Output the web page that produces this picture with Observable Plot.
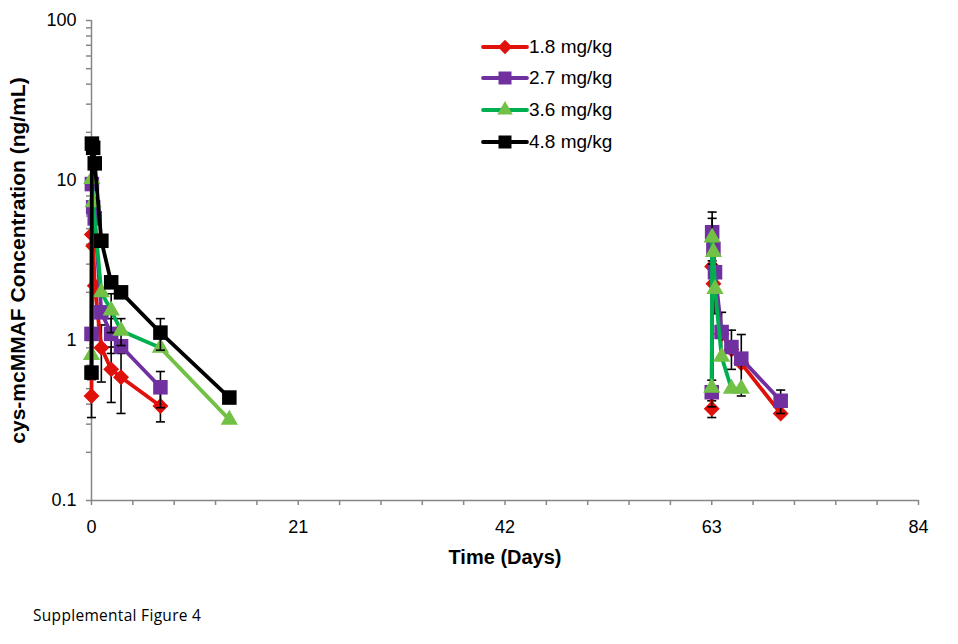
<!DOCTYPE html>
<html>
<head>
<meta charset="utf-8">
<script src="https://cdn.jsdelivr.net/npm/d3@7"></script>
<script src="https://cdn.jsdelivr.net/npm/@observablehq/plot@0.6"></script>
<style>
  body { margin: 0; background: #fff; }
  #wrap { position: relative; width: 958px; height: 644px; font-family: "Liberation Sans", Arial, sans-serif; }
  #legend { position: absolute; left: 481px; top: 31px; }
  #legend .row { display: flex; align-items: center; height: 31.67px; font-size: 19px; color: #000; }
  #legend svg { display: block; }
  #caption { position: absolute; left: 33px; top: 604px; font-family: "Open Sans", sans-serif; font-size: 15.5px; letter-spacing: 0.3px; color: #000; }
</style>
</head>
<body>
<div id="wrap">
  <div id="chart"></div>
  <div id="legend"></div>
  <div id="caption">Supplemental Figure 4</div>
</div>
<script>
// Dose groups
const series = ["1.8 mg/kg", "2.7 mg/kg", "3.6 mg/kg", "4.8 mg/kg"];

// Sampling days for the first and the fourth cycle
const cycle1Days = [0, 0.04, 0.17, 0.33, 1, 2, 3, 7, 14];
const cycle2Days = [63, 63.04, 63.17, 63.33, 64, 65, 66, 70];

// Mean cys-mcMMAF concentration (ng/mL); null = not sampled
const conc18Cycle1 = [0.45, 4.6, 3.9, 2.2, 0.90, 0.66, 0.59, 0.39, null];
const conc27Cycle1 = [1.1, 9.5, 6.8, 5.8, 1.5, 1.1, 0.92, 0.51, null];
const conc36Cycle1 = [0.81, 10.2, 7.3, null, 2.0, 1.54, 1.15, 0.90, 0.32];
const conc48Cycle1 = [0.63, 17.0, 16.0, 12.8, 4.2, 2.31, 2.0, 1.12, 0.44];

const conc18Cycle2 = [0.375, 2.9, 2.26, null, 1.1, 0.88, 0.72, 0.35];
const conc27Cycle2 = [0.475, 4.75, 3.74, 2.67, 1.13, 0.91, 0.77, 0.42];
const conc36Cycle2 = [0.506, 4.4, 3.57, 2.1, 0.79, 0.50, 0.50, null];
const conc48Cycle2 = [null, null, null, null, null, null, null, null];

// Standard deviations (ng/mL); null = no error bar
const sd18Cycle1 = [0.12, null, null, null, 0.35, 0.25, 0.24, 0.08, null];
const sd27Cycle1 = [null, null, null, null, null, 0.27, null, 0.13, null];
const sd36Cycle1 = [null, null, null, null, null, 0.42, 0.22, null, null];
const sd48Cycle1 = [null, null, null, null, null, null, null, 0.25, null];

const sd18Cycle2 = [0.045, null, null, null, null, null, null, null];
const sd27Cycle2 = [0.09, 1.6, null, 1.2, 0.37, 0.25, 0.32, 0.07];
const sd36Cycle2 = [null, 1.4, null, null, null, null, null, null];
const sd48Cycle2 = [null, null, null, null, null, null, null, null];

// Axis ticks
const xMajorTicks = [0, 21, 42, 63, 84];
const yMajorTicks = [0.1, 1, 10, 100];
const xTitle = "Time (Days)";
const yTitle = "cys-mcMMAF Concentration (ng/mL)";

// Series styling
const styles = [
  {line: "#E0100A", marker: "#E0100A", symbol: "diamond2", r: 7.2},
  {line: "#7030A0", marker: "#7030A0", symbol: "square", r: 8.2},
  {line: "#00B050", marker: "#72C045", symbol: "triangle", r: 6.4},
  {line: "#000000", marker: "#000000", symbol: "square", r: 8.2}
];
const d3Symbols = {diamond2: d3.symbolDiamond2, square: d3.symbolSquare, triangle: d3.symbolTriangle};

const concTable = [
  [conc18Cycle1, conc18Cycle2, sd18Cycle1, sd18Cycle2],
  [conc27Cycle1, conc27Cycle2, sd27Cycle1, sd27Cycle2],
  [conc36Cycle1, conc36Cycle2, sd36Cycle1, sd36Cycle2],
  [conc48Cycle1, conc48Cycle2, sd48Cycle1, sd48Cycle2]
];

const rows = [];
series.forEach((name, k) => {
  const [c1, c2, s1, s2] = concTable[k];
  [[cycle1Days, c1, s1, 1], [cycle2Days, c2, s2, 2]].forEach(([days, vals, sds, cycle]) => {
    days.forEach((t, i) => {
      if (vals[i] != null) rows.push({series: name, k, cycle, time: t, value: vals[i], sd: sds[i]});
    });
  });
});

// Horizontal cap for the error bars
const capSymbol = {
  draw(context, size) {
    const w = Math.sqrt(size) / 2;
    context.moveTo(-w, 0);
    context.lineTo(w, 0);
  }
};

const axisGray = "#868686";

// Minor ticks: x every fifth of 21 days, y at 2..9 × each decade
const xTicks = d3.range(0, (xMajorTicks.length - 1) * 5 + 1).map(i => i * 4.2);
const yTicks = yMajorTicks.flatMap((v, i) =>
  i < yMajorTicks.length - 1 ? d3.range(1, 10).map(m => +(v * m).toPrecision(3)) : [v]);

const marks = [
  Plot.axisX({ticks: xTicks, tickSize: 5, tickPadding: 15, stroke: axisGray, strokeWidth: 1.5, fontSize: 18,
    tickFormat: (d, i) => i % 5 === 0 ? String(Math.round(d)) : "", label: null}),
  Plot.axisY({ticks: yTicks, tickSize: 5, tickPadding: 10, stroke: axisGray, strokeWidth: 1.5, fontSize: 18,
    tickFormat: d => yMajorTicks.includes(d) ? String(d) : "", label: null}),
  Plot.ruleX([0], {stroke: axisGray, strokeWidth: 1.5}),
  Plot.ruleY([0.1], {stroke: axisGray, strokeWidth: 1.5}),
  Plot.text([xTitle], {frameAnchor: "bottom", dy: 63, fontSize: 20, fontWeight: "bold", fill: "black"}),
  Plot.text([yTitle], {frameAnchor: "left", textAnchor: "middle", dx: -73, rotate: -90, fontSize: 21, fontWeight: "bold", fill: "black"})
];

series.forEach((name, k) => {
  const st = styles[k];
  const data = rows.filter(d => d.k === k);
  const err = data.filter(d => d.sd != null);
  const caps = err.flatMap(d => [{time: d.time, y: d.value - d.sd}, {time: d.time, y: d.value + d.sd}]);
  marks.push(
    Plot.ruleX(err, {x: "time", y1: d => d.value - d.sd, y2: d => d.value + d.sd, stroke: "black", strokeWidth: 1.6}),
    Plot.dot(caps, {x: "time", y: "y", symbol: capSymbol, r: 5.1, stroke: "black", fill: "none", strokeWidth: 1.6})
  );
  if (k === 2) {
    // the cycle-1 tail after day 7 is drawn in the marker green
    marks.push(
      Plot.line(data.filter(d => !(d.cycle === 1 && d.time > 7)),
        {x: "time", y: "value", z: "cycle", stroke: st.line, strokeWidth: 3.8}),
      Plot.line(data.filter(d => d.cycle === 1 && d.time >= 7),
        {x: "time", y: "value", z: "cycle", stroke: st.marker, strokeWidth: 3.8})
    );
  } else {
    marks.push(Plot.line(data, {x: "time", y: "value", z: "cycle", stroke: st.line, strokeWidth: 3.8}));
  }
  marks.push(Plot.dot(data, {x: "time", y: "value", symbol: st.symbol, r: st.r, fill: st.marker, stroke: "none"}));
});

const chart = Plot.plot({
  width: 958,
  height: 580,
  marginLeft: 91,
  marginRight: 40,
  marginTop: 20,
  marginBottom: 80,
  style: {fontFamily: "Liberation Sans, Arial, sans-serif", background: "white", color: "black"},
  x: {domain: [0, 84]},
  y: {type: "log", domain: [0.1, 100]},
  marks
});
document.getElementById("chart").appendChild(chart);

// Legend
const legend = document.getElementById("legend");
series.forEach((name, k) => {
  const st = styles[k];
  const row = document.createElement("div");
  row.className = "row";
  const sym = d3.symbol(d3Symbols[st.symbol], st.r * st.r * Math.PI * 0.8)();
  row.innerHTML =
    `<svg width="48" height="20" viewBox="0 0 48 20">
       <line x1="2" x2="46" y1="10" y2="10" stroke="${st.line}" stroke-width="3.8" stroke-linecap="round"/>
       <path transform="translate(24,10)" d="${sym}" fill="${st.marker}"/>
     </svg><span>${name}</span>`;
  legend.appendChild(row);
});
</script>
</body>
</html>
